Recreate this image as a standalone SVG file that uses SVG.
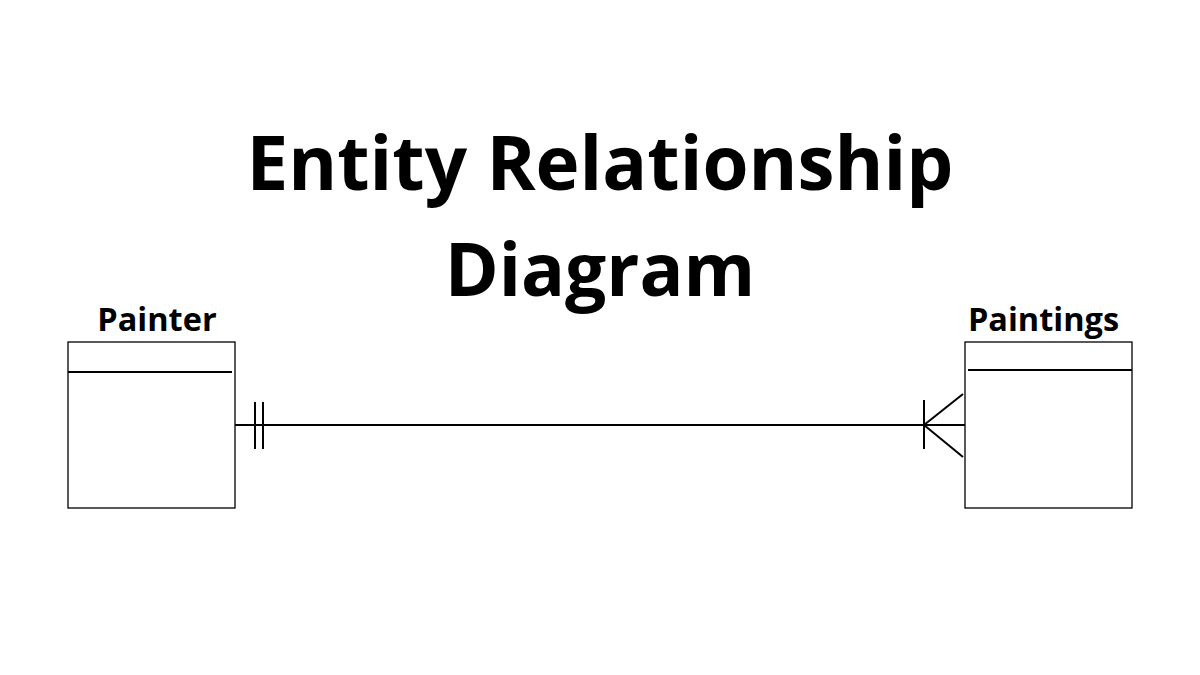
<svg xmlns="http://www.w3.org/2000/svg" width="1200" height="675" viewBox="0 0 1200 675">
<style>
.title{font-family:"Open Sans","Liberation Sans",sans-serif;font-weight:700;font-size:74.5px;fill:#000;text-anchor:middle}
.label{font-family:"Open Sans","Liberation Sans",sans-serif;font-weight:700;font-size:32.5px;fill:#000;text-anchor:middle}
.box{fill:#fff;stroke:#000;stroke-width:1.3}
.hdr{stroke:#000;stroke-width:2.2}
.conn{stroke:#000;stroke-width:2;fill:none}
</style>
<rect width="1200" height="675" fill="#fff"/>
<g id="title">
<text class="title" x="600" y="190">Entity Relationship</text>
<text class="title" x="600" y="296" style="font-size:73px">Diagram</text>
</g>
<g id="painter">
<text class="label" x="157" y="331">Painter</text>
<rect class="box" x="68" y="342" width="167" height="166"/>
<line class="hdr" x1="68" y1="372" x2="232" y2="372"/>
</g>
<g id="paintings">
<text class="label" x="1043.5" y="331">Paintings</text>
<rect class="box" x="965" y="342" width="167" height="166"/>
<line class="hdr" x1="968" y1="370" x2="1132" y2="370"/>
</g>
<g id="connectors">
<line class="conn" x1="235" y1="425" x2="965" y2="425"/>
<line class="conn" x1="255" y1="402" x2="255" y2="449"/>
<line class="conn" x1="263" y1="402" x2="263" y2="449"/>
<line class="conn" x1="924" y1="400" x2="924" y2="449"/>
<line class="conn" x1="924" y1="425" x2="963" y2="394"/>
<line class="conn" x1="924" y1="425" x2="963" y2="457"/>
</g>
</svg>
